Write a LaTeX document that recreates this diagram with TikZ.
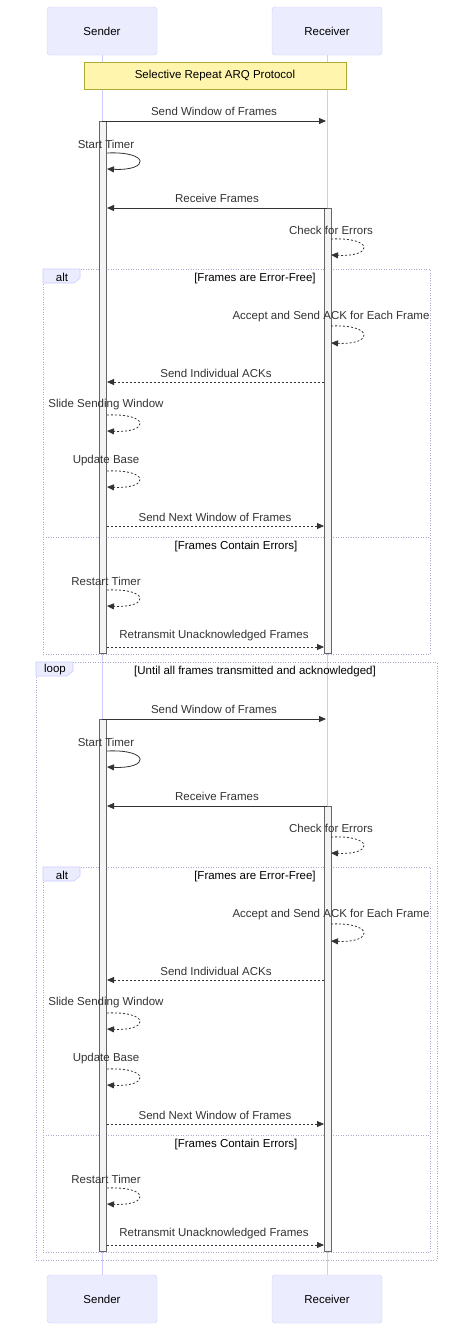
\documentclass[tikz,border=0pt]{standalone}
\usepackage{fontspec}
\setmainfont{Liberation Sans}
\usepackage{tikz}
\usetikzlibrary{positioning, arrows.meta}
\definecolor{actorfill}{HTML}{ECECFF}
\definecolor{actorline}{HTML}{CCCCFF}
\definecolor{notefill}{HTML}{FFF5AD}
\definecolor{noteline}{HTML}{AAAA33}
\definecolor{msgline}{HTML}{333333}
\definecolor{actfill}{HTML}{F4F4F4}
\definecolor{actline}{HTML}{666666}
\definecolor{fragline}{HTML}{AAAACC}

\begin{document}
\begin{tikzpicture}[x=1pt, y=-1pt, font=\fontsize{11.5}{13}\selectfont,
  actor/.style={fill=actorfill, draw=actorline, rounded corners=3pt, minimum width=110pt, minimum height=48pt},
  msg/.style={-{Triangle[length=7pt, width=6pt]}, msgline, line width=0.8pt},
  reply/.style={msg, dash pattern=on 2pt off 2pt},
  lbl/.style={text=msgline, inner sep=1pt},
  act/.style={fill=actfill, draw=actline, line width=0.6pt},
  fragment/.style={draw=fragline, dash pattern=on 1pt off 1.5pt, line width=0.7pt},
  fragtab/.style={fill=actorfill, draw=actorline, line width=0.6pt}]
  \useasboundingbox (0,0) rectangle (474,1331);

  % actors and lifelines
  \node[actor] (sendT) at (102,31) {Sender};
  \node[actor] (recvT) at (327,31) {Receiver};
  \node[actor] (sendB) at (102,1299) {Sender};
  \node[actor] (recvB) at (327,1299) {Receiver};
  \draw[actorline, line width=0.8pt] (sendT) -- (sendB);
  \draw[actorline, line width=0.8pt] (recvT) -- (recvB);

  \node[fill=notefill, draw=noteline, minimum width=262pt, minimum height=27pt] (title) at (215,76)
    {Selective Repeat ARQ Protocol};

  % loop frame
  \draw[fragment] (36,662) rectangle (437,1260);
  \draw[fragtab] (36,662) -- (73,662) -- (73,671) -- (67,676) -- (36,676) -- cycle;
  \node (loopTag) at (55,670) {loop};
  \node (loopCond) at (255,672) {[Until all frames transmitted and acknowledged]};

  % one round of the protocol, drawn twice
  \foreach \k/\dy in {a/0, b/598} {
    \begin{scope}[yshift=-\dy pt]
      % alt frame
      \draw[fragment] (43,269) rectangle (430,654);
      \draw[fragment] (43,537) -- (430,537);
      \draw[fragtab] (43,269) -- (80,269) -- (80,278) -- (74,283) -- (43,283) -- cycle;
      \node (altTag\k) at (62,277) {alt};
      \node (okCond\k) at (255,279) {[Frames are Error-Free]};
      \node (errCond\k) at (236,547) {[Frames Contain Errors]};

      % activations
      \draw[act] (99,121) rectangle (106,653);
      \draw[act] (324,208) rectangle (331,653);

      % labels
      \node[lbl] (sendWin\k) at (214,111) {Send Window of Frames};
      \node[lbl] (timer\k) at (106,144) {Start Timer};
      \node[lbl] (recvFr\k) at (217,198) {Receive Frames};
      \node[lbl] (check\k) at (331,230) {Check for Errors};
      \node[lbl] (accept\k) at (331,317) {Accept and Send ACK for Each Frame};
      \node[lbl] (acks\k) at (216,373) {Send Individual ACKs};
      \node[lbl] (slide\k) at (106,405) {Slide Sending Window};
      \node[lbl] (base\k) at (106,461) {Update Base};
      \node[lbl] (next\k) at (215,517) {Send Next Window of Frames};
      \node[lbl] (restart\k) at (106,581) {Restart Timer};
      \node[lbl] (retx\k) at (214,636) {Retransmit Unacknowledged Frames};

      % lifeline points
      \coordinate (s0\k) at (102,121);  \coordinate (r0\k) at (326,121);
      \coordinate (r1\k) at (327,208);  \coordinate (s1\k) at (107,208);
      \coordinate (r2\k) at (324,382);  \coordinate (s2\k) at (107,382);
      \coordinate (s3\k) at (107,526);  \coordinate (r3\k) at (324,526);
      \coordinate (s4\k) at (107,647);  \coordinate (r4\k) at (324,647);

      % messages
      \draw[msg] (s0\k) -- (r0\k);
      \draw[msg] (107,153) coordinate (t1\k) .. controls (150,151) and (150,171) .. (107,169) coordinate (t2\k);
      \draw[msg] (r1\k) -- (s1\k);
      \draw[reply] (331,239) coordinate (c1\k) .. controls (374,237) and (374,257) .. (331,255) coordinate (c2\k);
      \draw[reply] (331,326) coordinate (a1\k) .. controls (374,324) and (374,345) .. (331,343) coordinate (a2\k);
      \draw[reply] (r2\k) -- (s2\k);
      \draw[reply] (107,415) coordinate (w1\k) .. controls (150,413) and (150,433) .. (107,431) coordinate (w2\k);
      \draw[reply] (107,471) coordinate (b1\k) .. controls (150,469) and (150,489) .. (107,487) coordinate (b2\k);
      \draw[reply] (s3\k) -- (r3\k);
      \draw[reply] (107,590) coordinate (x1\k) .. controls (150,588) and (150,608) .. (107,606) coordinate (x2\k);
      \draw[reply] (s4\k) -- (r4\k);
    \end{scope}
  }
\end{tikzpicture}
\end{document}
